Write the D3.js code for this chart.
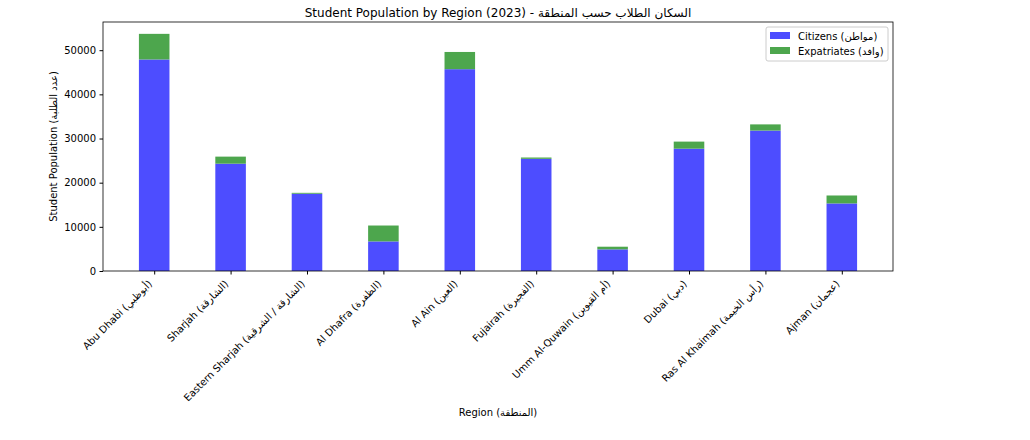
<!DOCTYPE html>
<html>
<head>
<meta charset="utf-8">
<script src="https://cdn.jsdelivr.net/npm/d3@7"></script>
<style>
  body { margin: 0; background: #fff; }
  svg text { font-family: "DejaVu Sans", sans-serif; fill: #000; }
</style>
</head>
<body>
<svg id="chart" width="1030" height="440"></svg>
<script>
// ─── Data ────────────────────────────────────────────────
const regions = [
  'Abu Dhabi (أبوظبي)', 'Sharjah (الشارقة)', 'Eastern Sharjah (الشارقة / الشرقية)',
  'Al Dhafra (الظفرة)', 'Al Ain (العين)', 'Fujairah (الفجيرة)',
  'Umm Al-Quwain (أم القيوين)', 'Dubai (دبي)', 'Ras Al Khaimah (رأس الخيمة)', 'Ajman (عجمان)'
];
const citizens    = [47900, 24300, 17500, 6700, 45700, 25400, 4900, 27700, 31800, 15300];
const expatriates = [5800, 1600, 200, 3600, 3900, 300, 600, 1600, 1400, 1800];
const yTicks = [0, 10000, 20000, 30000, 40000, 50000];
const seriesNames = ['Citizens (مواطن)', 'Expatriates (وافد)'];
const seriesColors = ['#4d4dff', '#4da64d'];

// ─── Layout ──────────────────────────────────────────────
const svg = d3.select('#chart');
const m = { left: 103, right: 893, top: 22, bottom: 271 };

const totals = citizens.map((c, i) => c + expatriates[i]);
const yMax = d3.max(totals) * 1.05;

// matplotlib-like linear x: bars at 0..n-1, width 0.4, 5% margins
const n = regions.length;
const barW = 0.4;
const span = (n - 1) + barW;
const x = d3.scaleLinear()
  .domain([-barW / 2 - span * 0.05, n - 1 + barW / 2 + span * 0.05])
  .range([m.left, m.right]);
const y = d3.scaleLinear().domain([0, yMax]).range([m.bottom, m.top]);

// ─── Bars ────────────────────────────────────────────────
const stacks = [
  regions.map((r, i) => ({ i, y0: 0, y1: citizens[i] })),
  regions.map((r, i) => ({ i, y0: citizens[i], y1: totals[i] })),
];
stacks.forEach((s, k) => {
  svg.append('g').selectAll('rect').data(s).join('rect')
    .attr('x', d => x(d.i - barW / 2))
    .attr('width', d => x(d.i + barW / 2) - x(d.i - barW / 2))
    .attr('y', d => y(d.y1))
    .attr('height', d => y(d.y0) - y(d.y1))
    .attr('fill', seriesColors[k]);
});

// ─── Axes ────────────────────────────────────────────────
const yAxis = svg.append('g')
  .attr('transform', `translate(${m.left},0)`)
  .call(d3.axisLeft(y).tickValues(yTicks).tickFormat(d3.format('d')).tickSize(3.5).tickPadding(3.5));
yAxis.select('.domain').remove();
yAxis.selectAll('text').attr('font-size', 10).attr('fill', '#000');

const xAxis = svg.append('g')
  .attr('transform', `translate(0,${m.bottom})`)
  .call(d3.axisBottom(x).tickValues(d3.range(n)).tickSize(3.5).tickFormat(''));
xAxis.select('.domain').remove();

svg.append('g').selectAll('text').data(regions).join('text')
  .attr('transform', (d, i) => `translate(${x(i) - 1.5},${m.bottom + 13.5}) rotate(-45)`)
  .attr('text-anchor', 'end')
  .attr('font-size', 10)
  .text(d => d);

// frame
svg.append('rect')
  .attr('x', m.left).attr('y', m.top)
  .attr('width', m.right - m.left).attr('height', m.bottom - m.top)
  .attr('fill', 'none').attr('stroke', '#000').attr('stroke-width', 0.8);

// ─── Labels ──────────────────────────────────────────────
svg.append('text')
  .attr('x', (m.left + m.right) / 2).attr('y', 17)
  .attr('text-anchor', 'middle').attr('font-size', 12)
  .text('Student Population by Region (2023) - السكان الطلاب حسب المنطقة');

svg.append('text')
  .attr('x', (m.left + m.right) / 2).attr('y', 416)
  .attr('text-anchor', 'middle').attr('font-size', 10)
  .text('Region (المنطقة)');

svg.append('text')
  .attr('transform', `translate(57,${(m.top + m.bottom) / 2}) rotate(-90)`)
  .attr('text-anchor', 'middle').attr('font-size', 10)
  .text('Student Population (عدد الطلبة)');

// ─── Legend ──────────────────────────────────────────────
const lg = svg.append('g').attr('transform', 'translate(766,27)');
lg.append('rect')
  .attr('width', 122).attr('height', 34).attr('rx', 2)
  .attr('fill', '#fff').attr('fill-opacity', 0.8)
  .attr('stroke', '#ccc').attr('stroke-width', 1);
seriesNames.forEach((name, k) => {
  lg.append('rect')
    .attr('x', 4).attr('y', 5 + k * 15).attr('width', 20).attr('height', 7)
    .attr('fill', seriesColors[k]);
  lg.append('text')
    .attr('x', 32).attr('y', 12.5 + k * 15)
    .attr('font-size', 10)
    .text(name);
});
</script>
</body>
</html>
